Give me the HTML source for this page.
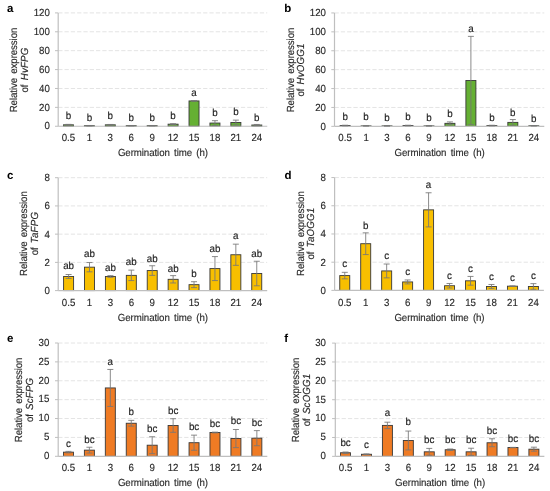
<!DOCTYPE html>
<html><head><meta charset="utf-8"><style>
html,body{margin:0;padding:0;background:#fff;}
svg{display:block;font-family:"Liberation Sans", sans-serif;text-rendering:geometricPrecision;will-change:transform;}
</style></head><body>
<svg width="550" height="491" viewBox="0 0 550 491">
<rect width="550" height="491" fill="#fff"/>
<line x1="58.2" y1="107.36" x2="267.26" y2="107.36" stroke="#e4e4e4" stroke-width="1" stroke-dasharray="4.3 2"/>
<line x1="58.2" y1="88.47" x2="267.26" y2="88.47" stroke="#e4e4e4" stroke-width="1" stroke-dasharray="4.3 2"/>
<line x1="58.2" y1="69.58" x2="267.26" y2="69.58" stroke="#e4e4e4" stroke-width="1" stroke-dasharray="4.3 2"/>
<line x1="58.2" y1="50.68" x2="267.26" y2="50.68" stroke="#e4e4e4" stroke-width="1" stroke-dasharray="4.3 2"/>
<line x1="58.2" y1="31.79" x2="267.26" y2="31.79" stroke="#e4e4e4" stroke-width="1" stroke-dasharray="4.3 2"/>
<line x1="58.2" y1="12.9" x2="267.26" y2="12.9" stroke="#e4e4e4" stroke-width="1" stroke-dasharray="4.3 2"/>
<line x1="55" y1="126.25" x2="58.2" y2="126.25" stroke="#bfbfbf" stroke-width="1"/>
<text transform="translate(49.9,129.45) scale(1,1.06)" text-anchor="end" font-size="9.7" fill="#2a2a2a" stroke="#2a2a2a" stroke-width="0.14">0</text>
<line x1="55" y1="107.36" x2="58.2" y2="107.36" stroke="#bfbfbf" stroke-width="1"/>
<text transform="translate(49.9,110.56) scale(1,1.06)" text-anchor="end" font-size="9.7" fill="#2a2a2a" stroke="#2a2a2a" stroke-width="0.14">20</text>
<line x1="55" y1="88.47" x2="58.2" y2="88.47" stroke="#bfbfbf" stroke-width="1"/>
<text transform="translate(49.9,91.67) scale(1,1.06)" text-anchor="end" font-size="9.7" fill="#2a2a2a" stroke="#2a2a2a" stroke-width="0.14">40</text>
<line x1="55" y1="69.58" x2="58.2" y2="69.58" stroke="#bfbfbf" stroke-width="1"/>
<text transform="translate(49.9,72.78) scale(1,1.06)" text-anchor="end" font-size="9.7" fill="#2a2a2a" stroke="#2a2a2a" stroke-width="0.14">60</text>
<line x1="55" y1="50.68" x2="58.2" y2="50.68" stroke="#bfbfbf" stroke-width="1"/>
<text transform="translate(49.9,53.88) scale(1,1.06)" text-anchor="end" font-size="9.7" fill="#2a2a2a" stroke="#2a2a2a" stroke-width="0.14">80</text>
<line x1="55" y1="31.79" x2="58.2" y2="31.79" stroke="#bfbfbf" stroke-width="1"/>
<text transform="translate(49.9,34.99) scale(1,1.06)" text-anchor="end" font-size="9.7" fill="#2a2a2a" stroke="#2a2a2a" stroke-width="0.14">100</text>
<line x1="55" y1="12.9" x2="58.2" y2="12.9" stroke="#bfbfbf" stroke-width="1"/>
<text transform="translate(49.9,16.1) scale(1,1.06)" text-anchor="end" font-size="9.7" fill="#2a2a2a" stroke="#2a2a2a" stroke-width="0.14">120</text>
<line x1="58.2" y1="12.9" x2="58.2" y2="126.25" stroke="#bfbfbf" stroke-width="1.2"/>
<rect x="63.45" y="124.83" width="10" height="1.42" fill="#65b033" stroke="#383838" stroke-width="0.9"/>
<rect x="84.38" y="125.68" width="10" height="0.57" fill="#65b033" stroke="#383838" stroke-width="0.9"/>
<rect x="105.31" y="124.83" width="10" height="1.42" fill="#65b033" stroke="#383838" stroke-width="0.9"/>
<rect x="126.23" y="125.68" width="10" height="0.57" fill="#65b033" stroke="#383838" stroke-width="0.9"/>
<rect x="147.16" y="125.68" width="10" height="0.57" fill="#65b033" stroke="#383838" stroke-width="0.9"/>
<rect x="168.09" y="124.17" width="10" height="2.08" fill="#65b033" stroke="#383838" stroke-width="0.9"/>
<rect x="189.02" y="100.94" width="10" height="25.31" fill="#65b033" stroke="#383838" stroke-width="0.9"/>
<rect x="209.94" y="123.04" width="10" height="3.21" fill="#65b033" stroke="#383838" stroke-width="0.9"/>
<rect x="230.87" y="122.47" width="10" height="3.78" fill="#65b033" stroke="#383838" stroke-width="0.9"/>
<rect x="251.8" y="125.02" width="10" height="1.23" fill="#65b033" stroke="#383838" stroke-width="0.9"/>
<line x1="58.2" y1="126.25" x2="267.26" y2="126.25" stroke="#bfbfbf" stroke-width="1.2"/>
<path d="M68.45 124.36V125.31M65.45 124.36H71.45M65.45 125.31H71.45" stroke="#767676" stroke-width="0.85" fill="none"/>
<text transform="translate(68.45,119.4) scale(1,1.06)" text-anchor="middle" font-size="9.8" fill="#222222" stroke="#222222" stroke-width="0.14">b</text>
<text transform="translate(68.45,140.75) scale(1,1.06)" text-anchor="middle" font-size="9.7" fill="#2a2a2a" stroke="#2a2a2a" stroke-width="0.14">0.5</text>
<path d="M89.38 125.49V125.87M86.38 125.49H92.38M86.38 125.87H92.38" stroke="#767676" stroke-width="0.85" fill="none"/>
<text transform="translate(89.38,120.8) scale(1,1.06)" text-anchor="middle" font-size="9.8" fill="#222222" stroke="#222222" stroke-width="0.14">b</text>
<text transform="translate(89.38,140.75) scale(1,1.06)" text-anchor="middle" font-size="9.7" fill="#2a2a2a" stroke="#2a2a2a" stroke-width="0.14">1</text>
<path d="M110.31 124.46V125.21M107.31 124.46H113.31M107.31 125.21H113.31" stroke="#767676" stroke-width="0.85" fill="none"/>
<text transform="translate(110.31,119.4) scale(1,1.06)" text-anchor="middle" font-size="9.8" fill="#222222" stroke="#222222" stroke-width="0.14">b</text>
<text transform="translate(110.31,140.75) scale(1,1.06)" text-anchor="middle" font-size="9.7" fill="#2a2a2a" stroke="#2a2a2a" stroke-width="0.14">3</text>
<path d="M131.23 125.49V125.87M128.23 125.49H134.23M128.23 125.87H134.23" stroke="#767676" stroke-width="0.85" fill="none"/>
<text transform="translate(131.23,120.8) scale(1,1.06)" text-anchor="middle" font-size="9.8" fill="#222222" stroke="#222222" stroke-width="0.14">b</text>
<text transform="translate(131.23,140.75) scale(1,1.06)" text-anchor="middle" font-size="9.7" fill="#2a2a2a" stroke="#2a2a2a" stroke-width="0.14">6</text>
<path d="M152.16 125.49V125.87M149.16 125.49H155.16M149.16 125.87H155.16" stroke="#767676" stroke-width="0.85" fill="none"/>
<text transform="translate(152.16,120.8) scale(1,1.06)" text-anchor="middle" font-size="9.8" fill="#222222" stroke="#222222" stroke-width="0.14">b</text>
<text transform="translate(152.16,140.75) scale(1,1.06)" text-anchor="middle" font-size="9.7" fill="#2a2a2a" stroke="#2a2a2a" stroke-width="0.14">9</text>
<path d="M173.09 123.7V124.64M170.09 123.7H176.09M170.09 124.64H176.09" stroke="#767676" stroke-width="0.85" fill="none"/>
<text transform="translate(173.09,119.4) scale(1,1.06)" text-anchor="middle" font-size="9.8" fill="#222222" stroke="#222222" stroke-width="0.14">b</text>
<text transform="translate(173.09,140.75) scale(1,1.06)" text-anchor="middle" font-size="9.7" fill="#2a2a2a" stroke="#2a2a2a" stroke-width="0.14">12</text>
<path d="M194.02 100.65V101.22M191.02 100.65H197.02M191.02 101.22H197.02" stroke="#767676" stroke-width="0.85" fill="none"/>
<text transform="translate(194.02,96) scale(1,1.06)" text-anchor="middle" font-size="9.8" fill="#222222" stroke="#222222" stroke-width="0.14">a</text>
<text transform="translate(194.02,140.75) scale(1,1.06)" text-anchor="middle" font-size="9.7" fill="#2a2a2a" stroke="#2a2a2a" stroke-width="0.14">15</text>
<path d="M214.94 120.68V125.4M211.94 120.68H217.94M211.94 125.4H217.94" stroke="#767676" stroke-width="0.85" fill="none"/>
<text transform="translate(214.94,116.4) scale(1,1.06)" text-anchor="middle" font-size="9.8" fill="#222222" stroke="#222222" stroke-width="0.14">b</text>
<text transform="translate(214.94,140.75) scale(1,1.06)" text-anchor="middle" font-size="9.7" fill="#2a2a2a" stroke="#2a2a2a" stroke-width="0.14">18</text>
<path d="M235.87 120.11V124.83M232.87 120.11H238.87M232.87 124.83H238.87" stroke="#767676" stroke-width="0.85" fill="none"/>
<text transform="translate(235.87,115.4) scale(1,1.06)" text-anchor="middle" font-size="9.8" fill="#222222" stroke="#222222" stroke-width="0.14">b</text>
<text transform="translate(235.87,140.75) scale(1,1.06)" text-anchor="middle" font-size="9.7" fill="#2a2a2a" stroke="#2a2a2a" stroke-width="0.14">21</text>
<path d="M256.8 124.46V125.59M253.8 124.46H259.8M253.8 125.59H259.8" stroke="#767676" stroke-width="0.85" fill="none"/>
<text transform="translate(256.8,121) scale(1,1.06)" text-anchor="middle" font-size="9.8" fill="#222222" stroke="#222222" stroke-width="0.14">b</text>
<text transform="translate(256.8,140.75) scale(1,1.06)" text-anchor="middle" font-size="9.7" fill="#2a2a2a" stroke="#2a2a2a" stroke-width="0.14">24</text>
<text transform="translate(162.93,156.05) scale(1,1.06)" text-anchor="middle" font-size="9.7" fill="#2a2a2a" stroke="#2a2a2a" stroke-width="0.14" letter-spacing="-0.08" word-spacing="1.7">Germination time (h)</text>
<text transform="translate(17.1,70) rotate(-90) scale(1,1.06)" text-anchor="middle" font-size="9.7" fill="#2a2a2a" stroke="#2a2a2a" stroke-width="0.14" letter-spacing="-0.08" word-spacing="1.6"><tspan x="0" y="0">Relative expression</tspan><tspan x="0" y="10.28">of <tspan font-style="italic" letter-spacing="0.2">HvFPG</tspan></tspan></text>
<text x="7" y="12.4" font-size="11.5" font-weight="bold" fill="#000">a</text>
<line x1="334.5" y1="107.45" x2="544.28" y2="107.45" stroke="#e4e4e4" stroke-width="1" stroke-dasharray="4.3 2"/>
<line x1="334.5" y1="88.55" x2="544.28" y2="88.55" stroke="#e4e4e4" stroke-width="1" stroke-dasharray="4.3 2"/>
<line x1="334.5" y1="69.65" x2="544.28" y2="69.65" stroke="#e4e4e4" stroke-width="1" stroke-dasharray="4.3 2"/>
<line x1="334.5" y1="50.75" x2="544.28" y2="50.75" stroke="#e4e4e4" stroke-width="1" stroke-dasharray="4.3 2"/>
<line x1="334.5" y1="31.85" x2="544.28" y2="31.85" stroke="#e4e4e4" stroke-width="1" stroke-dasharray="4.3 2"/>
<line x1="334.5" y1="12.95" x2="544.28" y2="12.95" stroke="#e4e4e4" stroke-width="1" stroke-dasharray="4.3 2"/>
<line x1="331.3" y1="126.35" x2="334.5" y2="126.35" stroke="#bfbfbf" stroke-width="1"/>
<text transform="translate(326,129.55) scale(1,1.06)" text-anchor="end" font-size="9.7" fill="#2a2a2a" stroke="#2a2a2a" stroke-width="0.14">0</text>
<line x1="331.3" y1="107.45" x2="334.5" y2="107.45" stroke="#bfbfbf" stroke-width="1"/>
<text transform="translate(326,110.65) scale(1,1.06)" text-anchor="end" font-size="9.7" fill="#2a2a2a" stroke="#2a2a2a" stroke-width="0.14">20</text>
<line x1="331.3" y1="88.55" x2="334.5" y2="88.55" stroke="#bfbfbf" stroke-width="1"/>
<text transform="translate(326,91.75) scale(1,1.06)" text-anchor="end" font-size="9.7" fill="#2a2a2a" stroke="#2a2a2a" stroke-width="0.14">40</text>
<line x1="331.3" y1="69.65" x2="334.5" y2="69.65" stroke="#bfbfbf" stroke-width="1"/>
<text transform="translate(326,72.85) scale(1,1.06)" text-anchor="end" font-size="9.7" fill="#2a2a2a" stroke="#2a2a2a" stroke-width="0.14">60</text>
<line x1="331.3" y1="50.75" x2="334.5" y2="50.75" stroke="#bfbfbf" stroke-width="1"/>
<text transform="translate(326,53.95) scale(1,1.06)" text-anchor="end" font-size="9.7" fill="#2a2a2a" stroke="#2a2a2a" stroke-width="0.14">80</text>
<line x1="331.3" y1="31.85" x2="334.5" y2="31.85" stroke="#bfbfbf" stroke-width="1"/>
<text transform="translate(326,35.05) scale(1,1.06)" text-anchor="end" font-size="9.7" fill="#2a2a2a" stroke="#2a2a2a" stroke-width="0.14">100</text>
<line x1="331.3" y1="12.95" x2="334.5" y2="12.95" stroke="#bfbfbf" stroke-width="1"/>
<text transform="translate(326,16.15) scale(1,1.06)" text-anchor="end" font-size="9.7" fill="#2a2a2a" stroke="#2a2a2a" stroke-width="0.14">120</text>
<line x1="334.5" y1="12.95" x2="334.5" y2="126.35" stroke="#bfbfbf" stroke-width="1.2"/>
<rect x="340.1" y="125.5" width="10" height="0.85" fill="#65b033" stroke="#383838" stroke-width="0.9"/>
<rect x="361.07" y="125.88" width="10" height="0.47" fill="#65b033" stroke="#383838" stroke-width="0.9"/>
<rect x="382.03" y="125.88" width="10" height="0.47" fill="#65b033" stroke="#383838" stroke-width="0.9"/>
<rect x="403" y="125.5" width="10" height="0.85" fill="#65b033" stroke="#383838" stroke-width="0.9"/>
<rect x="423.97" y="125.88" width="10" height="0.47" fill="#65b033" stroke="#383838" stroke-width="0.9"/>
<rect x="444.93" y="123.33" width="10" height="3.02" fill="#65b033" stroke="#383838" stroke-width="0.9"/>
<rect x="465.9" y="80.52" width="10" height="45.83" fill="#65b033" stroke="#383838" stroke-width="0.9"/>
<rect x="486.87" y="125.55" width="10" height="0.8" fill="#65b033" stroke="#383838" stroke-width="0.9"/>
<rect x="507.83" y="122.38" width="10" height="3.97" fill="#65b033" stroke="#383838" stroke-width="0.9"/>
<rect x="528.8" y="125.78" width="10" height="0.57" fill="#65b033" stroke="#383838" stroke-width="0.9"/>
<line x1="334.5" y1="126.35" x2="544.28" y2="126.35" stroke="#bfbfbf" stroke-width="1.2"/>
<path d="M345.1 125.22V125.78M342.1 125.22H348.1M342.1 125.78H348.1" stroke="#767676" stroke-width="0.85" fill="none"/>
<text transform="translate(345.1,120) scale(1,1.06)" text-anchor="middle" font-size="9.8" fill="#222222" stroke="#222222" stroke-width="0.14">b</text>
<text transform="translate(345.1,140.85) scale(1,1.06)" text-anchor="middle" font-size="9.7" fill="#2a2a2a" stroke="#2a2a2a" stroke-width="0.14">0.5</text>
<path d="M366.07 125.69V126.07M363.07 125.69H369.07M363.07 126.07H369.07" stroke="#767676" stroke-width="0.85" fill="none"/>
<text transform="translate(366.07,120.4) scale(1,1.06)" text-anchor="middle" font-size="9.8" fill="#222222" stroke="#222222" stroke-width="0.14">b</text>
<text transform="translate(366.07,140.85) scale(1,1.06)" text-anchor="middle" font-size="9.7" fill="#2a2a2a" stroke="#2a2a2a" stroke-width="0.14">1</text>
<path d="M387.03 125.69V126.07M384.03 125.69H390.03M384.03 126.07H390.03" stroke="#767676" stroke-width="0.85" fill="none"/>
<text transform="translate(387.03,121) scale(1,1.06)" text-anchor="middle" font-size="9.8" fill="#222222" stroke="#222222" stroke-width="0.14">b</text>
<text transform="translate(387.03,140.85) scale(1,1.06)" text-anchor="middle" font-size="9.7" fill="#2a2a2a" stroke="#2a2a2a" stroke-width="0.14">3</text>
<path d="M408 125.22V125.78M405 125.22H411M405 125.78H411" stroke="#767676" stroke-width="0.85" fill="none"/>
<text transform="translate(408,120) scale(1,1.06)" text-anchor="middle" font-size="9.8" fill="#222222" stroke="#222222" stroke-width="0.14">b</text>
<text transform="translate(408,140.85) scale(1,1.06)" text-anchor="middle" font-size="9.7" fill="#2a2a2a" stroke="#2a2a2a" stroke-width="0.14">6</text>
<path d="M428.97 125.69V126.07M425.97 125.69H431.97M425.97 126.07H431.97" stroke="#767676" stroke-width="0.85" fill="none"/>
<text transform="translate(428.97,120.6) scale(1,1.06)" text-anchor="middle" font-size="9.8" fill="#222222" stroke="#222222" stroke-width="0.14">b</text>
<text transform="translate(428.97,140.85) scale(1,1.06)" text-anchor="middle" font-size="9.7" fill="#2a2a2a" stroke="#2a2a2a" stroke-width="0.14">9</text>
<path d="M449.93 121.91V124.74M446.93 121.91H452.93M446.93 124.74H452.93" stroke="#767676" stroke-width="0.85" fill="none"/>
<text transform="translate(449.93,117.1) scale(1,1.06)" text-anchor="middle" font-size="9.8" fill="#222222" stroke="#222222" stroke-width="0.14">b</text>
<text transform="translate(449.93,140.85) scale(1,1.06)" text-anchor="middle" font-size="9.7" fill="#2a2a2a" stroke="#2a2a2a" stroke-width="0.14">12</text>
<path d="M470.9 36.39V124.65M467.9 36.39H473.9M467.9 124.65H473.9" stroke="#767676" stroke-width="0.85" fill="none"/>
<text transform="translate(470.9,31.5) scale(1,1.06)" text-anchor="middle" font-size="9.8" fill="#222222" stroke="#222222" stroke-width="0.14">a</text>
<text transform="translate(470.9,140.85) scale(1,1.06)" text-anchor="middle" font-size="9.7" fill="#2a2a2a" stroke="#2a2a2a" stroke-width="0.14">15</text>
<path d="M491.87 125.26V125.83M488.87 125.26H494.87M488.87 125.83H494.87" stroke="#767676" stroke-width="0.85" fill="none"/>
<text transform="translate(491.87,121.2) scale(1,1.06)" text-anchor="middle" font-size="9.8" fill="#222222" stroke="#222222" stroke-width="0.14">b</text>
<text transform="translate(491.87,140.85) scale(1,1.06)" text-anchor="middle" font-size="9.7" fill="#2a2a2a" stroke="#2a2a2a" stroke-width="0.14">18</text>
<path d="M512.83 119.55V125.22M509.83 119.55H515.83M509.83 125.22H515.83" stroke="#767676" stroke-width="0.85" fill="none"/>
<text transform="translate(512.83,115.6) scale(1,1.06)" text-anchor="middle" font-size="9.8" fill="#222222" stroke="#222222" stroke-width="0.14">b</text>
<text transform="translate(512.83,140.85) scale(1,1.06)" text-anchor="middle" font-size="9.7" fill="#2a2a2a" stroke="#2a2a2a" stroke-width="0.14">21</text>
<path d="M533.8 125.59V125.97M530.8 125.59H536.8M530.8 125.97H536.8" stroke="#767676" stroke-width="0.85" fill="none"/>
<text transform="translate(533.8,122) scale(1,1.06)" text-anchor="middle" font-size="9.8" fill="#222222" stroke="#222222" stroke-width="0.14">b</text>
<text transform="translate(533.8,140.85) scale(1,1.06)" text-anchor="middle" font-size="9.7" fill="#2a2a2a" stroke="#2a2a2a" stroke-width="0.14">24</text>
<text transform="translate(439.59,156.15) scale(1,1.06)" text-anchor="middle" font-size="9.7" fill="#2a2a2a" stroke="#2a2a2a" stroke-width="0.14" letter-spacing="-0.08" word-spacing="1.7">Germination time (h)</text>
<text transform="translate(293.5,70) rotate(-90) scale(1,1.06)" text-anchor="middle" font-size="9.7" fill="#2a2a2a" stroke="#2a2a2a" stroke-width="0.14" letter-spacing="-0.08" word-spacing="1.6"><tspan x="0" y="0">Relative expression</tspan><tspan x="0" y="10.28">of <tspan font-style="italic" letter-spacing="0.2">HvOGG1</tspan></tspan></text>
<text x="284.2" y="12.4" font-size="11.5" font-weight="bold" fill="#000">b</text>
<line x1="58.2" y1="262.38" x2="267.2" y2="262.38" stroke="#e4e4e4" stroke-width="1" stroke-dasharray="4.3 2"/>
<line x1="58.2" y1="234.15" x2="267.2" y2="234.15" stroke="#e4e4e4" stroke-width="1" stroke-dasharray="4.3 2"/>
<line x1="58.2" y1="205.93" x2="267.2" y2="205.93" stroke="#e4e4e4" stroke-width="1" stroke-dasharray="4.3 2"/>
<line x1="58.2" y1="177.7" x2="267.2" y2="177.7" stroke="#e4e4e4" stroke-width="1" stroke-dasharray="4.3 2"/>
<line x1="55" y1="290.6" x2="58.2" y2="290.6" stroke="#bfbfbf" stroke-width="1"/>
<text transform="translate(49.9,294.1) scale(1,1.06)" text-anchor="end" font-size="9.7" fill="#2a2a2a" stroke="#2a2a2a" stroke-width="0.14">0</text>
<line x1="55" y1="262.38" x2="58.2" y2="262.38" stroke="#bfbfbf" stroke-width="1"/>
<text transform="translate(49.9,265.88) scale(1,1.06)" text-anchor="end" font-size="9.7" fill="#2a2a2a" stroke="#2a2a2a" stroke-width="0.14">2</text>
<line x1="55" y1="234.15" x2="58.2" y2="234.15" stroke="#bfbfbf" stroke-width="1"/>
<text transform="translate(49.9,237.65) scale(1,1.06)" text-anchor="end" font-size="9.7" fill="#2a2a2a" stroke="#2a2a2a" stroke-width="0.14">4</text>
<line x1="55" y1="205.93" x2="58.2" y2="205.93" stroke="#bfbfbf" stroke-width="1"/>
<text transform="translate(49.9,209.43) scale(1,1.06)" text-anchor="end" font-size="9.7" fill="#2a2a2a" stroke="#2a2a2a" stroke-width="0.14">6</text>
<line x1="55" y1="177.7" x2="58.2" y2="177.7" stroke="#bfbfbf" stroke-width="1"/>
<text transform="translate(49.9,181.2) scale(1,1.06)" text-anchor="end" font-size="9.7" fill="#2a2a2a" stroke="#2a2a2a" stroke-width="0.14">8</text>
<line x1="58.2" y1="177.7" x2="58.2" y2="290.6" stroke="#bfbfbf" stroke-width="1.2"/>
<rect x="63.6" y="276.49" width="10" height="14.11" fill="#f8bf00" stroke="#383838" stroke-width="0.9"/>
<rect x="84.51" y="267.17" width="10" height="23.43" fill="#f8bf00" stroke="#383838" stroke-width="0.9"/>
<rect x="105.41" y="276.49" width="10" height="14.11" fill="#f8bf00" stroke="#383838" stroke-width="0.9"/>
<rect x="126.32" y="275.36" width="10" height="15.24" fill="#f8bf00" stroke="#383838" stroke-width="0.9"/>
<rect x="147.22" y="270.56" width="10" height="20.04" fill="#f8bf00" stroke="#383838" stroke-width="0.9"/>
<rect x="168.13" y="279.31" width="10" height="11.29" fill="#f8bf00" stroke="#383838" stroke-width="0.9"/>
<rect x="189.03" y="284.67" width="10" height="5.93" fill="#f8bf00" stroke="#383838" stroke-width="0.9"/>
<rect x="209.94" y="268.58" width="10" height="22.02" fill="#f8bf00" stroke="#383838" stroke-width="0.9"/>
<rect x="230.84" y="254.75" width="10" height="35.85" fill="#f8bf00" stroke="#383838" stroke-width="0.9"/>
<rect x="251.75" y="273.52" width="10" height="17.08" fill="#f8bf00" stroke="#383838" stroke-width="0.9"/>
<line x1="58.2" y1="290.6" x2="267.2" y2="290.6" stroke="#bfbfbf" stroke-width="1.2"/>
<path d="M68.6 274.51V278.46M65.6 274.51H71.6M65.6 278.46H71.6" stroke="#767676" stroke-width="0.85" fill="none"/>
<text transform="translate(68.6,269.4) scale(1,1.06)" text-anchor="middle" font-size="9.8" fill="#222222" stroke="#222222" stroke-width="0.14">ab</text>
<text transform="translate(68.6,305.7) scale(1,1.06)" text-anchor="middle" font-size="9.7" fill="#2a2a2a" stroke="#2a2a2a" stroke-width="0.14">0.5</text>
<path d="M89.51 262.52V271.83M86.51 262.52H92.51M86.51 271.83H92.51" stroke="#767676" stroke-width="0.85" fill="none"/>
<text transform="translate(89.51,257.4) scale(1,1.06)" text-anchor="middle" font-size="9.8" fill="#222222" stroke="#222222" stroke-width="0.14">ab</text>
<text transform="translate(89.51,305.7) scale(1,1.06)" text-anchor="middle" font-size="9.7" fill="#2a2a2a" stroke="#2a2a2a" stroke-width="0.14">1</text>
<path d="M110.41 275.64V277.33M107.41 275.64H113.41M107.41 277.33H113.41" stroke="#767676" stroke-width="0.85" fill="none"/>
<text transform="translate(110.41,270.6) scale(1,1.06)" text-anchor="middle" font-size="9.8" fill="#222222" stroke="#222222" stroke-width="0.14">ab</text>
<text transform="translate(110.41,305.7) scale(1,1.06)" text-anchor="middle" font-size="9.7" fill="#2a2a2a" stroke="#2a2a2a" stroke-width="0.14">3</text>
<path d="M131.32 270.14V280.58M128.32 270.14H134.32M128.32 280.58H134.32" stroke="#767676" stroke-width="0.85" fill="none"/>
<text transform="translate(131.32,265.4) scale(1,1.06)" text-anchor="middle" font-size="9.8" fill="#222222" stroke="#222222" stroke-width="0.14">ab</text>
<text transform="translate(131.32,305.7) scale(1,1.06)" text-anchor="middle" font-size="9.7" fill="#2a2a2a" stroke="#2a2a2a" stroke-width="0.14">6</text>
<path d="M152.22 265.76V275.36M149.22 265.76H155.22M149.22 275.36H155.22" stroke="#767676" stroke-width="0.85" fill="none"/>
<text transform="translate(152.22,262) scale(1,1.06)" text-anchor="middle" font-size="9.8" fill="#222222" stroke="#222222" stroke-width="0.14">ab</text>
<text transform="translate(152.22,305.7) scale(1,1.06)" text-anchor="middle" font-size="9.7" fill="#2a2a2a" stroke="#2a2a2a" stroke-width="0.14">9</text>
<path d="M173.13 275.64V282.98M170.13 275.64H176.13M170.13 282.98H176.13" stroke="#767676" stroke-width="0.85" fill="none"/>
<text transform="translate(173.13,271.6) scale(1,1.06)" text-anchor="middle" font-size="9.8" fill="#222222" stroke="#222222" stroke-width="0.14">ab</text>
<text transform="translate(173.13,305.7) scale(1,1.06)" text-anchor="middle" font-size="9.7" fill="#2a2a2a" stroke="#2a2a2a" stroke-width="0.14">12</text>
<path d="M194.03 281.71V287.64M191.03 281.71H197.03M191.03 287.64H197.03" stroke="#767676" stroke-width="0.85" fill="none"/>
<text transform="translate(194.03,277) scale(1,1.06)" text-anchor="middle" font-size="9.8" fill="#222222" stroke="#222222" stroke-width="0.14">b</text>
<text transform="translate(194.03,305.7) scale(1,1.06)" text-anchor="middle" font-size="9.7" fill="#2a2a2a" stroke="#2a2a2a" stroke-width="0.14">15</text>
<path d="M214.94 256.59V280.58M211.94 256.59H217.94M211.94 280.58H217.94" stroke="#767676" stroke-width="0.85" fill="none"/>
<text transform="translate(214.94,252) scale(1,1.06)" text-anchor="middle" font-size="9.8" fill="#222222" stroke="#222222" stroke-width="0.14">ab</text>
<text transform="translate(214.94,305.7) scale(1,1.06)" text-anchor="middle" font-size="9.7" fill="#2a2a2a" stroke="#2a2a2a" stroke-width="0.14">18</text>
<path d="M235.84 244.17V265.34M232.84 244.17H238.84M232.84 265.34H238.84" stroke="#767676" stroke-width="0.85" fill="none"/>
<text transform="translate(235.84,238.6) scale(1,1.06)" text-anchor="middle" font-size="9.8" fill="#222222" stroke="#222222" stroke-width="0.14">a</text>
<text transform="translate(235.84,305.7) scale(1,1.06)" text-anchor="middle" font-size="9.7" fill="#2a2a2a" stroke="#2a2a2a" stroke-width="0.14">21</text>
<path d="M256.75 261.25V285.8M253.75 261.25H259.75M253.75 285.8H259.75" stroke="#767676" stroke-width="0.85" fill="none"/>
<text transform="translate(256.75,256.6) scale(1,1.06)" text-anchor="middle" font-size="9.8" fill="#222222" stroke="#222222" stroke-width="0.14">ab</text>
<text transform="translate(256.75,305.7) scale(1,1.06)" text-anchor="middle" font-size="9.7" fill="#2a2a2a" stroke="#2a2a2a" stroke-width="0.14">24</text>
<text transform="translate(162.9,321.1) scale(1,1.06)" text-anchor="middle" font-size="9.7" fill="#2a2a2a" stroke="#2a2a2a" stroke-width="0.14" letter-spacing="-0.08" word-spacing="1.7">Germination time (h)</text>
<text transform="translate(26.9,233.6) rotate(-90) scale(1,1.06)" text-anchor="middle" font-size="9.7" fill="#2a2a2a" stroke="#2a2a2a" stroke-width="0.14" letter-spacing="-0.08" word-spacing="1.6"><tspan x="0" y="0">Relative expression</tspan><tspan x="0" y="10.28">of <tspan font-style="italic" letter-spacing="0.2">TaFPG</tspan></tspan></text>
<text x="7" y="179.1" font-size="11.5" font-weight="bold" fill="#000">c</text>
<line x1="334.6" y1="262.19" x2="543.88" y2="262.19" stroke="#e4e4e4" stroke-width="1" stroke-dasharray="4.3 2"/>
<line x1="334.6" y1="233.97" x2="543.88" y2="233.97" stroke="#e4e4e4" stroke-width="1" stroke-dasharray="4.3 2"/>
<line x1="334.6" y1="205.76" x2="543.88" y2="205.76" stroke="#e4e4e4" stroke-width="1" stroke-dasharray="4.3 2"/>
<line x1="334.6" y1="177.55" x2="543.88" y2="177.55" stroke="#e4e4e4" stroke-width="1" stroke-dasharray="4.3 2"/>
<line x1="331.4" y1="290.4" x2="334.6" y2="290.4" stroke="#bfbfbf" stroke-width="1"/>
<text transform="translate(326,293.9) scale(1,1.06)" text-anchor="end" font-size="9.7" fill="#2a2a2a" stroke="#2a2a2a" stroke-width="0.14">0</text>
<line x1="331.4" y1="262.19" x2="334.6" y2="262.19" stroke="#bfbfbf" stroke-width="1"/>
<text transform="translate(326,265.69) scale(1,1.06)" text-anchor="end" font-size="9.7" fill="#2a2a2a" stroke="#2a2a2a" stroke-width="0.14">2</text>
<line x1="331.4" y1="233.97" x2="334.6" y2="233.97" stroke="#bfbfbf" stroke-width="1"/>
<text transform="translate(326,237.47) scale(1,1.06)" text-anchor="end" font-size="9.7" fill="#2a2a2a" stroke="#2a2a2a" stroke-width="0.14">4</text>
<line x1="331.4" y1="205.76" x2="334.6" y2="205.76" stroke="#bfbfbf" stroke-width="1"/>
<text transform="translate(326,209.26) scale(1,1.06)" text-anchor="end" font-size="9.7" fill="#2a2a2a" stroke="#2a2a2a" stroke-width="0.14">6</text>
<line x1="331.4" y1="177.55" x2="334.6" y2="177.55" stroke="#bfbfbf" stroke-width="1"/>
<text transform="translate(326,181.05) scale(1,1.06)" text-anchor="end" font-size="9.7" fill="#2a2a2a" stroke="#2a2a2a" stroke-width="0.14">8</text>
<line x1="334.6" y1="177.55" x2="334.6" y2="290.4" stroke="#bfbfbf" stroke-width="1.2"/>
<rect x="339.75" y="275.59" width="10" height="14.81" fill="#f8bf00" stroke="#383838" stroke-width="0.9"/>
<rect x="360.71" y="243.71" width="10" height="46.69" fill="#f8bf00" stroke="#383838" stroke-width="0.9"/>
<rect x="381.67" y="270.93" width="10" height="19.47" fill="#f8bf00" stroke="#383838" stroke-width="0.9"/>
<rect x="402.63" y="281.94" width="10" height="8.46" fill="#f8bf00" stroke="#383838" stroke-width="0.9"/>
<rect x="423.59" y="209.85" width="10" height="80.55" fill="#f8bf00" stroke="#383838" stroke-width="0.9"/>
<rect x="444.56" y="285.74" width="10" height="4.66" fill="#f8bf00" stroke="#383838" stroke-width="0.9"/>
<rect x="465.52" y="280.81" width="10" height="9.59" fill="#f8bf00" stroke="#383838" stroke-width="0.9"/>
<rect x="486.48" y="286.45" width="10" height="3.95" fill="#f8bf00" stroke="#383838" stroke-width="0.9"/>
<rect x="507.44" y="286.17" width="10" height="4.23" fill="#f8bf00" stroke="#383838" stroke-width="0.9"/>
<rect x="528.4" y="286.45" width="10" height="3.95" fill="#f8bf00" stroke="#383838" stroke-width="0.9"/>
<line x1="334.6" y1="290.4" x2="543.88" y2="290.4" stroke="#bfbfbf" stroke-width="1.2"/>
<path d="M344.75 272.34V278.83M341.75 272.34H347.75M341.75 278.83H347.75" stroke="#767676" stroke-width="0.85" fill="none"/>
<text transform="translate(344.75,266.8) scale(1,1.06)" text-anchor="middle" font-size="9.8" fill="#222222" stroke="#222222" stroke-width="0.14">c</text>
<text transform="translate(344.75,305.5) scale(1,1.06)" text-anchor="middle" font-size="9.7" fill="#2a2a2a" stroke="#2a2a2a" stroke-width="0.14">0.5</text>
<path d="M365.71 232.85V254.57M362.71 232.85H368.71M362.71 254.57H368.71" stroke="#767676" stroke-width="0.85" fill="none"/>
<text transform="translate(365.71,228.6) scale(1,1.06)" text-anchor="middle" font-size="9.8" fill="#222222" stroke="#222222" stroke-width="0.14">b</text>
<text transform="translate(365.71,305.5) scale(1,1.06)" text-anchor="middle" font-size="9.7" fill="#2a2a2a" stroke="#2a2a2a" stroke-width="0.14">1</text>
<path d="M386.67 264.02V277.85M383.67 264.02H389.67M383.67 277.85H389.67" stroke="#767676" stroke-width="0.85" fill="none"/>
<text transform="translate(386.67,259.1) scale(1,1.06)" text-anchor="middle" font-size="9.8" fill="#222222" stroke="#222222" stroke-width="0.14">c</text>
<text transform="translate(386.67,305.5) scale(1,1.06)" text-anchor="middle" font-size="9.7" fill="#2a2a2a" stroke="#2a2a2a" stroke-width="0.14">3</text>
<path d="M407.63 279.96V283.91M404.63 279.96H410.63M404.63 283.91H410.63" stroke="#767676" stroke-width="0.85" fill="none"/>
<text transform="translate(407.63,274.9) scale(1,1.06)" text-anchor="middle" font-size="9.8" fill="#222222" stroke="#222222" stroke-width="0.14">c</text>
<text transform="translate(407.63,305.5) scale(1,1.06)" text-anchor="middle" font-size="9.7" fill="#2a2a2a" stroke="#2a2a2a" stroke-width="0.14">6</text>
<path d="M428.59 192.78V226.92M425.59 192.78H431.59M425.59 226.92H431.59" stroke="#767676" stroke-width="0.85" fill="none"/>
<text transform="translate(428.59,187.8) scale(1,1.06)" text-anchor="middle" font-size="9.8" fill="#222222" stroke="#222222" stroke-width="0.14">a</text>
<text transform="translate(428.59,305.5) scale(1,1.06)" text-anchor="middle" font-size="9.7" fill="#2a2a2a" stroke="#2a2a2a" stroke-width="0.14">9</text>
<path d="M449.56 283.49V288M446.56 283.49H452.56M446.56 288H452.56" stroke="#767676" stroke-width="0.85" fill="none"/>
<text transform="translate(449.56,279) scale(1,1.06)" text-anchor="middle" font-size="9.8" fill="#222222" stroke="#222222" stroke-width="0.14">c</text>
<text transform="translate(449.56,305.5) scale(1,1.06)" text-anchor="middle" font-size="9.7" fill="#2a2a2a" stroke="#2a2a2a" stroke-width="0.14">12</text>
<path d="M470.52 276.43V285.18M467.52 276.43H473.52M467.52 285.18H473.52" stroke="#767676" stroke-width="0.85" fill="none"/>
<text transform="translate(470.52,272) scale(1,1.06)" text-anchor="middle" font-size="9.8" fill="#222222" stroke="#222222" stroke-width="0.14">c</text>
<text transform="translate(470.52,305.5) scale(1,1.06)" text-anchor="middle" font-size="9.7" fill="#2a2a2a" stroke="#2a2a2a" stroke-width="0.14">15</text>
<path d="M491.48 284.48V288.43M488.48 284.48H494.48M488.48 288.43H494.48" stroke="#767676" stroke-width="0.85" fill="none"/>
<text transform="translate(491.48,279.6) scale(1,1.06)" text-anchor="middle" font-size="9.8" fill="#222222" stroke="#222222" stroke-width="0.14">c</text>
<text transform="translate(491.48,305.5) scale(1,1.06)" text-anchor="middle" font-size="9.7" fill="#2a2a2a" stroke="#2a2a2a" stroke-width="0.14">18</text>
<path d="M512.44 285.89V286.45M509.44 285.89H515.44M509.44 286.45H515.44" stroke="#767676" stroke-width="0.85" fill="none"/>
<text transform="translate(512.44,280.6) scale(1,1.06)" text-anchor="middle" font-size="9.8" fill="#222222" stroke="#222222" stroke-width="0.14">c</text>
<text transform="translate(512.44,305.5) scale(1,1.06)" text-anchor="middle" font-size="9.7" fill="#2a2a2a" stroke="#2a2a2a" stroke-width="0.14">21</text>
<path d="M533.4 283.63V289.27M530.4 283.63H536.4M530.4 289.27H536.4" stroke="#767676" stroke-width="0.85" fill="none"/>
<text transform="translate(533.4,279) scale(1,1.06)" text-anchor="middle" font-size="9.8" fill="#222222" stroke="#222222" stroke-width="0.14">c</text>
<text transform="translate(533.4,305.5) scale(1,1.06)" text-anchor="middle" font-size="9.7" fill="#2a2a2a" stroke="#2a2a2a" stroke-width="0.14">24</text>
<text transform="translate(439.44,320.9) scale(1,1.06)" text-anchor="middle" font-size="9.7" fill="#2a2a2a" stroke="#2a2a2a" stroke-width="0.14" letter-spacing="-0.08" word-spacing="1.7">Germination time (h)</text>
<text transform="translate(303.5,233.6) rotate(-90) scale(1,1.06)" text-anchor="middle" font-size="9.7" fill="#2a2a2a" stroke="#2a2a2a" stroke-width="0.14" letter-spacing="-0.08" word-spacing="1.6"><tspan x="0" y="0">Relative expression</tspan><tspan x="0" y="10.28">of <tspan font-style="italic" letter-spacing="0.2">TaOGG1</tspan></tspan></text>
<text x="284.4" y="179.1" font-size="11.5" font-weight="bold" fill="#000">d</text>
<line x1="58.2" y1="437.42" x2="267.32" y2="437.42" stroke="#e4e4e4" stroke-width="1" stroke-dasharray="4.3 2"/>
<line x1="58.2" y1="418.53" x2="267.32" y2="418.53" stroke="#e4e4e4" stroke-width="1" stroke-dasharray="4.3 2"/>
<line x1="58.2" y1="399.65" x2="267.32" y2="399.65" stroke="#e4e4e4" stroke-width="1" stroke-dasharray="4.3 2"/>
<line x1="58.2" y1="380.77" x2="267.32" y2="380.77" stroke="#e4e4e4" stroke-width="1" stroke-dasharray="4.3 2"/>
<line x1="58.2" y1="361.88" x2="267.32" y2="361.88" stroke="#e4e4e4" stroke-width="1" stroke-dasharray="4.3 2"/>
<line x1="58.2" y1="343" x2="267.32" y2="343" stroke="#e4e4e4" stroke-width="1" stroke-dasharray="4.3 2"/>
<line x1="55" y1="456.3" x2="58.2" y2="456.3" stroke="#bfbfbf" stroke-width="1"/>
<text transform="translate(49.3,459.1) scale(1,1.06)" text-anchor="end" font-size="9.7" fill="#2a2a2a" stroke="#2a2a2a" stroke-width="0.14">0</text>
<line x1="55" y1="437.42" x2="58.2" y2="437.42" stroke="#bfbfbf" stroke-width="1"/>
<text transform="translate(49.3,440.22) scale(1,1.06)" text-anchor="end" font-size="9.7" fill="#2a2a2a" stroke="#2a2a2a" stroke-width="0.14">5</text>
<line x1="55" y1="418.53" x2="58.2" y2="418.53" stroke="#bfbfbf" stroke-width="1"/>
<text transform="translate(49.3,421.33) scale(1,1.06)" text-anchor="end" font-size="9.7" fill="#2a2a2a" stroke="#2a2a2a" stroke-width="0.14">10</text>
<line x1="55" y1="399.65" x2="58.2" y2="399.65" stroke="#bfbfbf" stroke-width="1"/>
<text transform="translate(49.3,402.45) scale(1,1.06)" text-anchor="end" font-size="9.7" fill="#2a2a2a" stroke="#2a2a2a" stroke-width="0.14">15</text>
<line x1="55" y1="380.77" x2="58.2" y2="380.77" stroke="#bfbfbf" stroke-width="1"/>
<text transform="translate(49.3,383.57) scale(1,1.06)" text-anchor="end" font-size="9.7" fill="#2a2a2a" stroke="#2a2a2a" stroke-width="0.14">20</text>
<line x1="55" y1="361.88" x2="58.2" y2="361.88" stroke="#bfbfbf" stroke-width="1"/>
<text transform="translate(49.3,364.68) scale(1,1.06)" text-anchor="end" font-size="9.7" fill="#2a2a2a" stroke="#2a2a2a" stroke-width="0.14">25</text>
<line x1="55" y1="343" x2="58.2" y2="343" stroke="#bfbfbf" stroke-width="1"/>
<text transform="translate(49.3,345.8) scale(1,1.06)" text-anchor="end" font-size="9.7" fill="#2a2a2a" stroke="#2a2a2a" stroke-width="0.14">30</text>
<line x1="58.2" y1="343" x2="58.2" y2="456.3" stroke="#bfbfbf" stroke-width="1.2"/>
<rect x="63.45" y="452.15" width="10" height="4.15" fill="#ef7b24" stroke="#383838" stroke-width="0.9"/>
<rect x="84.38" y="450.14" width="10" height="6.16" fill="#ef7b24" stroke="#383838" stroke-width="0.9"/>
<rect x="105.32" y="387.94" width="10" height="68.36" fill="#ef7b24" stroke="#383838" stroke-width="0.9"/>
<rect x="126.25" y="423.25" width="10" height="33.05" fill="#ef7b24" stroke="#383838" stroke-width="0.9"/>
<rect x="147.18" y="445.2" width="10" height="11.1" fill="#ef7b24" stroke="#383838" stroke-width="0.9"/>
<rect x="168.12" y="425.52" width="10" height="30.78" fill="#ef7b24" stroke="#383838" stroke-width="0.9"/>
<rect x="189.05" y="442.7" width="10" height="13.6" fill="#ef7b24" stroke="#383838" stroke-width="0.9"/>
<rect x="209.98" y="432.51" width="10" height="23.79" fill="#ef7b24" stroke="#383838" stroke-width="0.9"/>
<rect x="230.92" y="438.55" width="10" height="17.75" fill="#ef7b24" stroke="#383838" stroke-width="0.9"/>
<rect x="251.85" y="438.17" width="10" height="18.13" fill="#ef7b24" stroke="#383838" stroke-width="0.9"/>
<line x1="58.2" y1="456.3" x2="267.32" y2="456.3" stroke="#bfbfbf" stroke-width="1.2"/>
<path d="M68.45 451.39V452.9M65.45 451.39H71.45M65.45 452.9H71.45" stroke="#767676" stroke-width="0.85" fill="none"/>
<text transform="translate(68.45,446.7) scale(1,1.06)" text-anchor="middle" font-size="9.8" fill="#222222" stroke="#222222" stroke-width="0.14">c</text>
<text transform="translate(68.45,471.2) scale(1,1.06)" text-anchor="middle" font-size="9.7" fill="#2a2a2a" stroke="#2a2a2a" stroke-width="0.14">0.5</text>
<path d="M89.38 447.24V453.05M86.38 447.24H92.38M86.38 453.05H92.38" stroke="#767676" stroke-width="0.85" fill="none"/>
<text transform="translate(89.38,442.7) scale(1,1.06)" text-anchor="middle" font-size="9.8" fill="#222222" stroke="#222222" stroke-width="0.14">bc</text>
<text transform="translate(89.38,471.2) scale(1,1.06)" text-anchor="middle" font-size="9.7" fill="#2a2a2a" stroke="#2a2a2a" stroke-width="0.14">1</text>
<path d="M110.32 369.44V406.45M107.32 369.44H113.32M107.32 406.45H113.32" stroke="#767676" stroke-width="0.85" fill="none"/>
<text transform="translate(110.32,364.9) scale(1,1.06)" text-anchor="middle" font-size="9.8" fill="#222222" stroke="#222222" stroke-width="0.14">a</text>
<text transform="translate(110.32,471.2) scale(1,1.06)" text-anchor="middle" font-size="9.7" fill="#2a2a2a" stroke="#2a2a2a" stroke-width="0.14">3</text>
<path d="M131.25 420.35V426.16M128.25 420.35H134.25M128.25 426.16H134.25" stroke="#767676" stroke-width="0.85" fill="none"/>
<text transform="translate(131.25,415.3) scale(1,1.06)" text-anchor="middle" font-size="9.8" fill="#222222" stroke="#222222" stroke-width="0.14">b</text>
<text transform="translate(131.25,471.2) scale(1,1.06)" text-anchor="middle" font-size="9.7" fill="#2a2a2a" stroke="#2a2a2a" stroke-width="0.14">6</text>
<path d="M152.18 436.74V453.66M149.18 436.74H155.18M149.18 453.66H155.18" stroke="#767676" stroke-width="0.85" fill="none"/>
<text transform="translate(152.18,431.7) scale(1,1.06)" text-anchor="middle" font-size="9.8" fill="#222222" stroke="#222222" stroke-width="0.14">bc</text>
<text transform="translate(152.18,471.2) scale(1,1.06)" text-anchor="middle" font-size="9.7" fill="#2a2a2a" stroke="#2a2a2a" stroke-width="0.14">9</text>
<path d="M173.12 418.72V432.32M170.12 418.72H176.12M170.12 432.32H176.12" stroke="#767676" stroke-width="0.85" fill="none"/>
<text transform="translate(173.12,414) scale(1,1.06)" text-anchor="middle" font-size="9.8" fill="#222222" stroke="#222222" stroke-width="0.14">bc</text>
<text transform="translate(173.12,471.2) scale(1,1.06)" text-anchor="middle" font-size="9.7" fill="#2a2a2a" stroke="#2a2a2a" stroke-width="0.14">12</text>
<path d="M194.05 435.15V450.26M191.05 435.15H197.05M191.05 450.26H197.05" stroke="#767676" stroke-width="0.85" fill="none"/>
<text transform="translate(194.05,430) scale(1,1.06)" text-anchor="middle" font-size="9.8" fill="#222222" stroke="#222222" stroke-width="0.14">bc</text>
<text transform="translate(194.05,471.2) scale(1,1.06)" text-anchor="middle" font-size="9.7" fill="#2a2a2a" stroke="#2a2a2a" stroke-width="0.14">15</text>
<path d="M214.98 432.13V432.88M211.98 432.13H217.98M211.98 432.88H217.98" stroke="#767676" stroke-width="0.85" fill="none"/>
<text transform="translate(214.98,427.4) scale(1,1.06)" text-anchor="middle" font-size="9.8" fill="#222222" stroke="#222222" stroke-width="0.14">bc</text>
<text transform="translate(214.98,471.2) scale(1,1.06)" text-anchor="middle" font-size="9.7" fill="#2a2a2a" stroke="#2a2a2a" stroke-width="0.14">18</text>
<path d="M235.92 429.49V447.61M232.92 429.49H238.92M232.92 447.61H238.92" stroke="#767676" stroke-width="0.85" fill="none"/>
<text transform="translate(235.92,424.4) scale(1,1.06)" text-anchor="middle" font-size="9.8" fill="#222222" stroke="#222222" stroke-width="0.14">bc</text>
<text transform="translate(235.92,471.2) scale(1,1.06)" text-anchor="middle" font-size="9.7" fill="#2a2a2a" stroke="#2a2a2a" stroke-width="0.14">21</text>
<path d="M256.85 430.62V445.73M253.85 430.62H259.85M253.85 445.73H259.85" stroke="#767676" stroke-width="0.85" fill="none"/>
<text transform="translate(256.85,426.4) scale(1,1.06)" text-anchor="middle" font-size="9.8" fill="#222222" stroke="#222222" stroke-width="0.14">bc</text>
<text transform="translate(256.85,471.2) scale(1,1.06)" text-anchor="middle" font-size="9.7" fill="#2a2a2a" stroke="#2a2a2a" stroke-width="0.14">24</text>
<text transform="translate(162.96,486.3) scale(1,1.06)" text-anchor="middle" font-size="9.7" fill="#2a2a2a" stroke="#2a2a2a" stroke-width="0.14" letter-spacing="-0.08" word-spacing="1.7">Germination time (h)</text>
<text transform="translate(22,399.9) rotate(-90) scale(1,1.06)" text-anchor="middle" font-size="9.7" fill="#2a2a2a" stroke="#2a2a2a" stroke-width="0.14" letter-spacing="-0.08" word-spacing="1.6"><tspan x="0" y="0">Relative expression</tspan><tspan x="0" y="10.28">of <tspan font-style="italic" letter-spacing="0.2">ScFPG</tspan></tspan></text>
<text x="7" y="342.1" font-size="11.5" font-weight="bold" fill="#000">e</text>
<line x1="335.3" y1="437.48" x2="544.36" y2="437.48" stroke="#e4e4e4" stroke-width="1" stroke-dasharray="4.3 2"/>
<line x1="335.3" y1="418.6" x2="544.36" y2="418.6" stroke="#e4e4e4" stroke-width="1" stroke-dasharray="4.3 2"/>
<line x1="335.3" y1="399.73" x2="544.36" y2="399.73" stroke="#e4e4e4" stroke-width="1" stroke-dasharray="4.3 2"/>
<line x1="335.3" y1="380.85" x2="544.36" y2="380.85" stroke="#e4e4e4" stroke-width="1" stroke-dasharray="4.3 2"/>
<line x1="335.3" y1="361.98" x2="544.36" y2="361.98" stroke="#e4e4e4" stroke-width="1" stroke-dasharray="4.3 2"/>
<line x1="335.3" y1="343.1" x2="544.36" y2="343.1" stroke="#e4e4e4" stroke-width="1" stroke-dasharray="4.3 2"/>
<line x1="332.1" y1="456.35" x2="335.3" y2="456.35" stroke="#bfbfbf" stroke-width="1"/>
<text transform="translate(326,459.15) scale(1,1.06)" text-anchor="end" font-size="9.7" fill="#2a2a2a" stroke="#2a2a2a" stroke-width="0.14">0</text>
<line x1="332.1" y1="437.48" x2="335.3" y2="437.48" stroke="#bfbfbf" stroke-width="1"/>
<text transform="translate(326,440.28) scale(1,1.06)" text-anchor="end" font-size="9.7" fill="#2a2a2a" stroke="#2a2a2a" stroke-width="0.14">5</text>
<line x1="332.1" y1="418.6" x2="335.3" y2="418.6" stroke="#bfbfbf" stroke-width="1"/>
<text transform="translate(326,421.4) scale(1,1.06)" text-anchor="end" font-size="9.7" fill="#2a2a2a" stroke="#2a2a2a" stroke-width="0.14">10</text>
<line x1="332.1" y1="399.73" x2="335.3" y2="399.73" stroke="#bfbfbf" stroke-width="1"/>
<text transform="translate(326,402.53) scale(1,1.06)" text-anchor="end" font-size="9.7" fill="#2a2a2a" stroke="#2a2a2a" stroke-width="0.14">15</text>
<line x1="332.1" y1="380.85" x2="335.3" y2="380.85" stroke="#bfbfbf" stroke-width="1"/>
<text transform="translate(326,383.65) scale(1,1.06)" text-anchor="end" font-size="9.7" fill="#2a2a2a" stroke="#2a2a2a" stroke-width="0.14">20</text>
<line x1="332.1" y1="361.98" x2="335.3" y2="361.98" stroke="#bfbfbf" stroke-width="1"/>
<text transform="translate(326,364.78) scale(1,1.06)" text-anchor="end" font-size="9.7" fill="#2a2a2a" stroke="#2a2a2a" stroke-width="0.14">25</text>
<line x1="332.1" y1="343.1" x2="335.3" y2="343.1" stroke="#bfbfbf" stroke-width="1"/>
<text transform="translate(326,345.9) scale(1,1.06)" text-anchor="end" font-size="9.7" fill="#2a2a2a" stroke="#2a2a2a" stroke-width="0.14">30</text>
<line x1="335.3" y1="343.1" x2="335.3" y2="456.35" stroke="#bfbfbf" stroke-width="1.2"/>
<rect x="340.55" y="452.76" width="10" height="3.59" fill="#ef7b24" stroke="#383838" stroke-width="0.9"/>
<rect x="361.48" y="454.27" width="10" height="2.08" fill="#ef7b24" stroke="#383838" stroke-width="0.9"/>
<rect x="382.41" y="425.4" width="10" height="30.95" fill="#ef7b24" stroke="#383838" stroke-width="0.9"/>
<rect x="403.33" y="440.5" width="10" height="15.86" fill="#ef7b24" stroke="#383838" stroke-width="0.9"/>
<rect x="424.26" y="451.82" width="10" height="4.53" fill="#ef7b24" stroke="#383838" stroke-width="0.9"/>
<rect x="445.19" y="449.74" width="10" height="6.61" fill="#ef7b24" stroke="#383838" stroke-width="0.9"/>
<rect x="466.12" y="451.82" width="10" height="4.53" fill="#ef7b24" stroke="#383838" stroke-width="0.9"/>
<rect x="487.04" y="442.76" width="10" height="13.59" fill="#ef7b24" stroke="#383838" stroke-width="0.9"/>
<rect x="507.97" y="447.55" width="10" height="8.8" fill="#ef7b24" stroke="#383838" stroke-width="0.9"/>
<rect x="528.9" y="449.18" width="10" height="7.17" fill="#ef7b24" stroke="#383838" stroke-width="0.9"/>
<line x1="335.3" y1="456.35" x2="544.36" y2="456.35" stroke="#bfbfbf" stroke-width="1.2"/>
<path d="M345.55 452.01V453.52M342.55 452.01H348.55M342.55 453.52H348.55" stroke="#767676" stroke-width="0.85" fill="none"/>
<text transform="translate(345.55,445.6) scale(1,1.06)" text-anchor="middle" font-size="9.8" fill="#222222" stroke="#222222" stroke-width="0.14">bc</text>
<text transform="translate(345.55,471.25) scale(1,1.06)" text-anchor="middle" font-size="9.7" fill="#2a2a2a" stroke="#2a2a2a" stroke-width="0.14">0.5</text>
<path d="M366.48 453.9V454.65M363.48 453.9H369.48M363.48 454.65H369.48" stroke="#767676" stroke-width="0.85" fill="none"/>
<text transform="translate(366.48,448) scale(1,1.06)" text-anchor="middle" font-size="9.8" fill="#222222" stroke="#222222" stroke-width="0.14">c</text>
<text transform="translate(366.48,471.25) scale(1,1.06)" text-anchor="middle" font-size="9.7" fill="#2a2a2a" stroke="#2a2a2a" stroke-width="0.14">1</text>
<path d="M387.41 422.19V428.6M384.41 422.19H390.41M384.41 428.6H390.41" stroke="#767676" stroke-width="0.85" fill="none"/>
<text transform="translate(387.41,416.4) scale(1,1.06)" text-anchor="middle" font-size="9.8" fill="#222222" stroke="#222222" stroke-width="0.14">a</text>
<text transform="translate(387.41,471.25) scale(1,1.06)" text-anchor="middle" font-size="9.7" fill="#2a2a2a" stroke="#2a2a2a" stroke-width="0.14">3</text>
<path d="M408.33 431.06V449.93M405.33 431.06H411.33M405.33 449.93H411.33" stroke="#767676" stroke-width="0.85" fill="none"/>
<text transform="translate(408.33,425.4) scale(1,1.06)" text-anchor="middle" font-size="9.8" fill="#222222" stroke="#222222" stroke-width="0.14">b</text>
<text transform="translate(408.33,471.25) scale(1,1.06)" text-anchor="middle" font-size="9.7" fill="#2a2a2a" stroke="#2a2a2a" stroke-width="0.14">6</text>
<path d="M429.26 448.42V455.22M426.26 448.42H432.26M426.26 455.22H432.26" stroke="#767676" stroke-width="0.85" fill="none"/>
<text transform="translate(429.26,443) scale(1,1.06)" text-anchor="middle" font-size="9.8" fill="#222222" stroke="#222222" stroke-width="0.14">bc</text>
<text transform="translate(429.26,471.25) scale(1,1.06)" text-anchor="middle" font-size="9.7" fill="#2a2a2a" stroke="#2a2a2a" stroke-width="0.14">9</text>
<path d="M450.19 448.99V450.5M447.19 448.99H453.19M447.19 450.5H453.19" stroke="#767676" stroke-width="0.85" fill="none"/>
<text transform="translate(450.19,443) scale(1,1.06)" text-anchor="middle" font-size="9.8" fill="#222222" stroke="#222222" stroke-width="0.14">bc</text>
<text transform="translate(450.19,471.25) scale(1,1.06)" text-anchor="middle" font-size="9.7" fill="#2a2a2a" stroke="#2a2a2a" stroke-width="0.14">12</text>
<path d="M471.12 448.23V455.41M468.12 448.23H474.12M468.12 455.41H474.12" stroke="#767676" stroke-width="0.85" fill="none"/>
<text transform="translate(471.12,442.6) scale(1,1.06)" text-anchor="middle" font-size="9.8" fill="#222222" stroke="#222222" stroke-width="0.14">bc</text>
<text transform="translate(471.12,471.25) scale(1,1.06)" text-anchor="middle" font-size="9.7" fill="#2a2a2a" stroke="#2a2a2a" stroke-width="0.14">15</text>
<path d="M492.04 438.76V446.76M489.04 438.76H495.04M489.04 446.76H495.04" stroke="#767676" stroke-width="0.85" fill="none"/>
<text transform="translate(492.04,433.6) scale(1,1.06)" text-anchor="middle" font-size="9.8" fill="#222222" stroke="#222222" stroke-width="0.14">bc</text>
<text transform="translate(492.04,471.25) scale(1,1.06)" text-anchor="middle" font-size="9.7" fill="#2a2a2a" stroke="#2a2a2a" stroke-width="0.14">18</text>
<path d="M512.97 447.37V447.74M509.97 447.37H515.97M509.97 447.74H515.97" stroke="#767676" stroke-width="0.85" fill="none"/>
<text transform="translate(512.97,442) scale(1,1.06)" text-anchor="middle" font-size="9.8" fill="#222222" stroke="#222222" stroke-width="0.14">bc</text>
<text transform="translate(512.97,471.25) scale(1,1.06)" text-anchor="middle" font-size="9.7" fill="#2a2a2a" stroke="#2a2a2a" stroke-width="0.14">21</text>
<path d="M533.9 447.18V451.18M530.9 447.18H536.9M530.9 451.18H536.9" stroke="#767676" stroke-width="0.85" fill="none"/>
<text transform="translate(533.9,442) scale(1,1.06)" text-anchor="middle" font-size="9.8" fill="#222222" stroke="#222222" stroke-width="0.14">bc</text>
<text transform="translate(533.9,471.25) scale(1,1.06)" text-anchor="middle" font-size="9.7" fill="#2a2a2a" stroke="#2a2a2a" stroke-width="0.14">24</text>
<text transform="translate(440.03,486.35) scale(1,1.06)" text-anchor="middle" font-size="9.7" fill="#2a2a2a" stroke="#2a2a2a" stroke-width="0.14" letter-spacing="-0.08" word-spacing="1.7">Germination time (h)</text>
<text transform="translate(299.4,399.9) rotate(-90) scale(1,1.06)" text-anchor="middle" font-size="9.7" fill="#2a2a2a" stroke="#2a2a2a" stroke-width="0.14" letter-spacing="-0.08" word-spacing="1.6"><tspan x="0" y="0">Relative expression</tspan><tspan x="0" y="10.28">of <tspan font-style="italic" letter-spacing="0.2">ScOGG1</tspan></tspan></text>
<text x="284.2" y="342.1" font-size="11.5" font-weight="bold" fill="#000">f</text>
</svg>
</body></html>
